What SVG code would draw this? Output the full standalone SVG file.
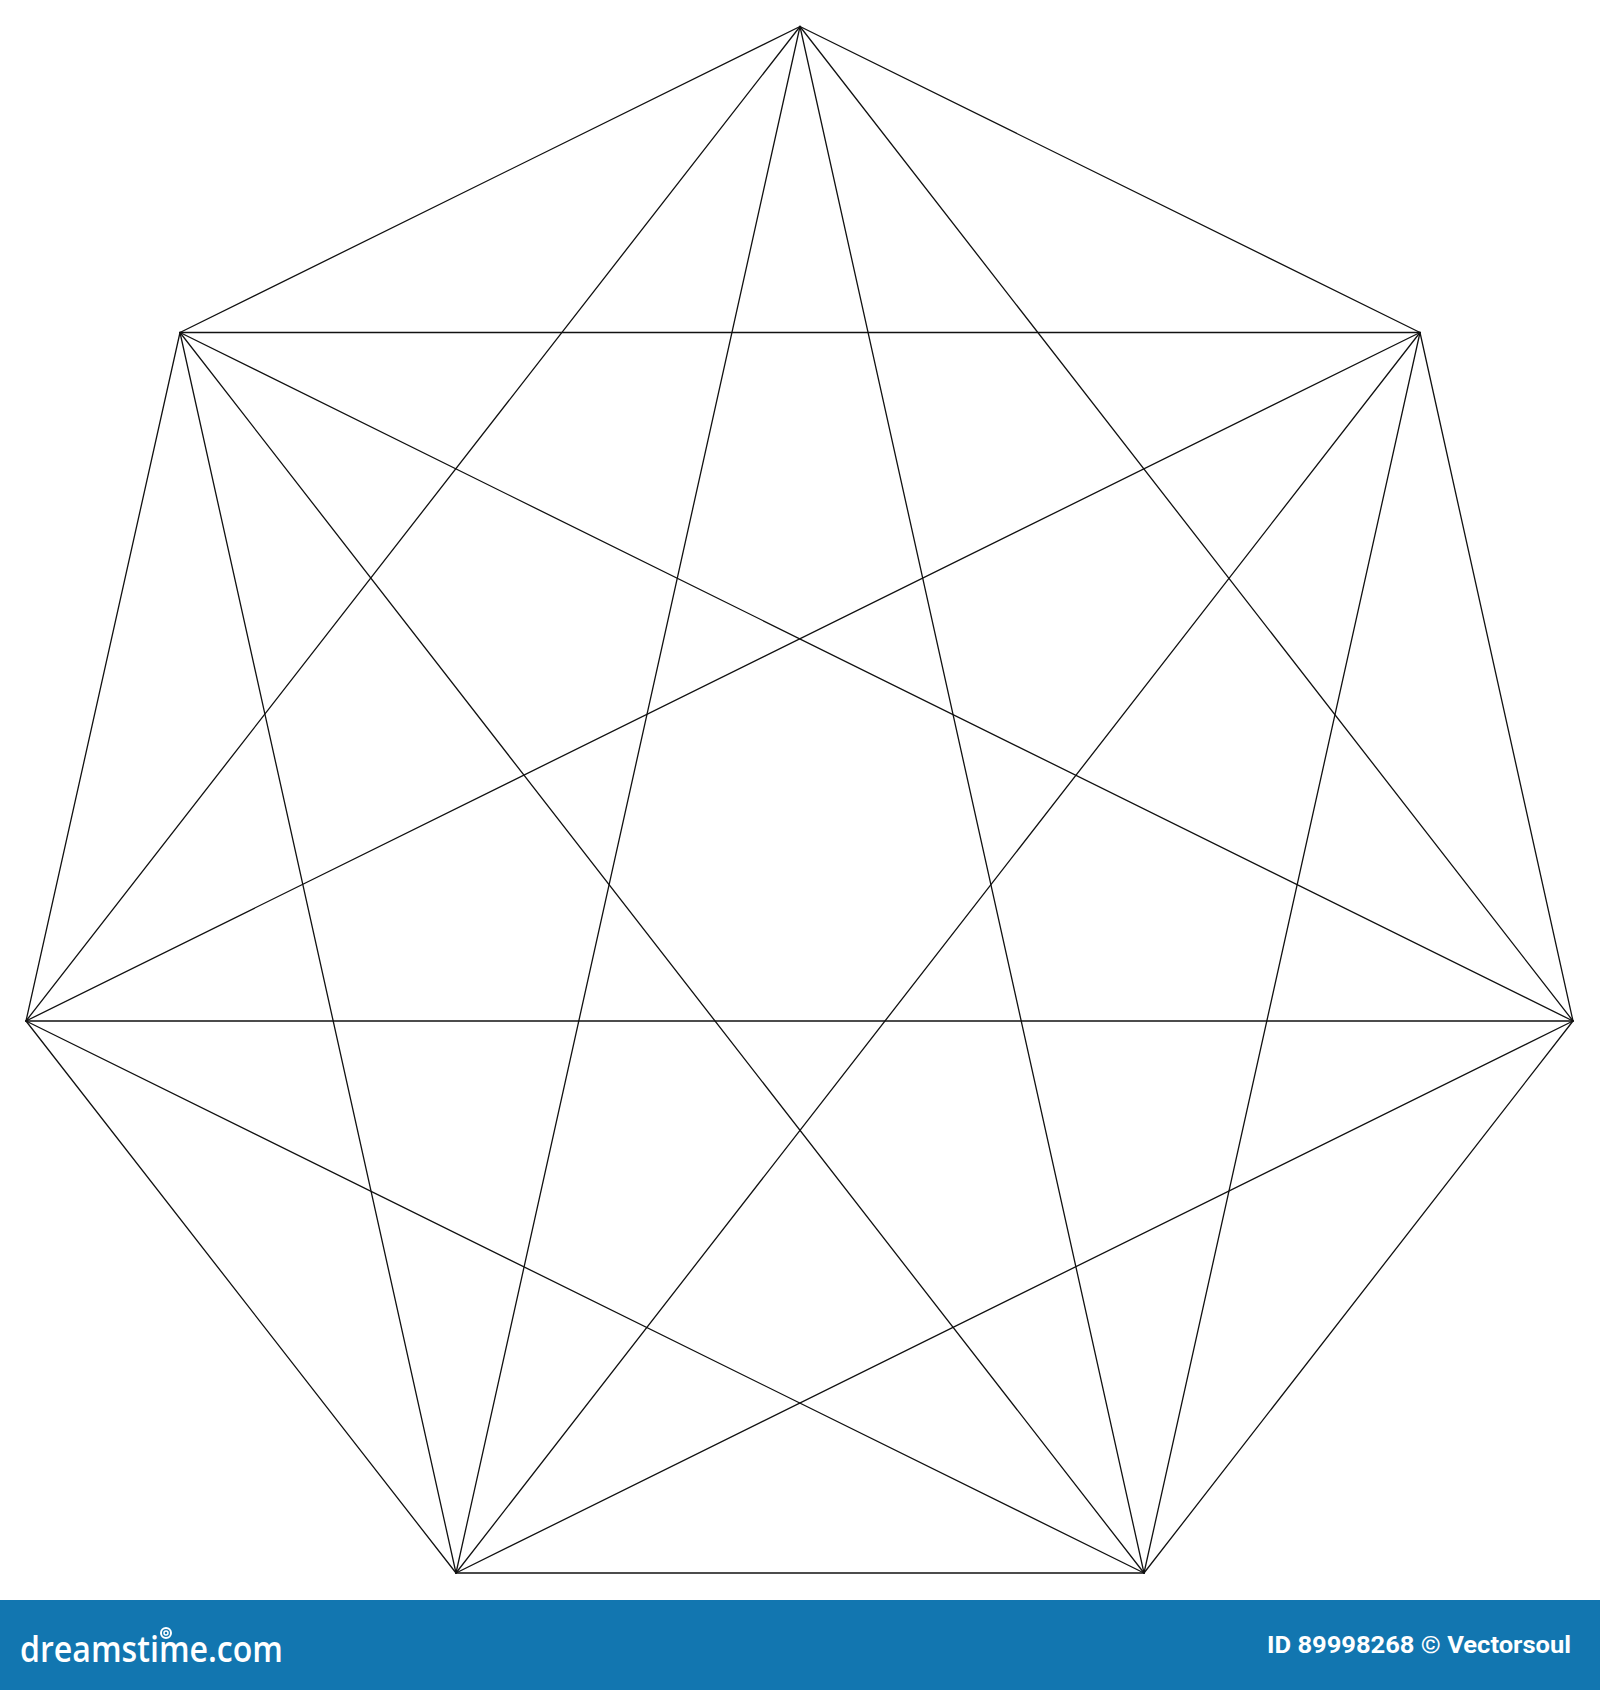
<svg xmlns="http://www.w3.org/2000/svg" width="1600" height="1690" viewBox="0 0 1600 1690">
<style>
.ln{stroke:#111111;stroke-width:1.3;fill:none;stroke-linecap:round}
.ft{fill:#ffffff}
</style>
<rect x="0" y="0" width="1600" height="1690" fill="#ffffff"/>
<g id="connectors">
<line class="ln" x1="800" y1="26.5" x2="180" y2="332.5"/>
<line class="ln" x1="800" y1="26.5" x2="1420" y2="332.5"/>
<line class="ln" x1="800" y1="26.5" x2="26" y2="1021"/>
<line class="ln" x1="800" y1="26.5" x2="1573" y2="1021"/>
<line class="ln" x1="800" y1="26.5" x2="456" y2="1573"/>
<line class="ln" x1="800" y1="26.5" x2="1144" y2="1573"/>
<line class="ln" x1="180" y1="332.5" x2="1420" y2="332.5"/>
<line class="ln" x1="180" y1="332.5" x2="26" y2="1021"/>
<line class="ln" x1="180" y1="332.5" x2="1573" y2="1021"/>
<line class="ln" x1="180" y1="332.5" x2="456" y2="1573"/>
<line class="ln" x1="180" y1="332.5" x2="1144" y2="1573"/>
<line class="ln" x1="1420" y1="332.5" x2="26" y2="1021"/>
<line class="ln" x1="1420" y1="332.5" x2="1573" y2="1021"/>
<line class="ln" x1="1420" y1="332.5" x2="456" y2="1573"/>
<line class="ln" x1="1420" y1="332.5" x2="1144" y2="1573"/>
<line class="ln" x1="26" y1="1021" x2="1573" y2="1021"/>
<line class="ln" x1="26" y1="1021" x2="456" y2="1573"/>
<line class="ln" x1="26" y1="1021" x2="1144" y2="1573"/>
<line class="ln" x1="1573" y1="1021" x2="456" y2="1573"/>
<line class="ln" x1="1573" y1="1021" x2="1144" y2="1573"/>
<line class="ln" x1="456" y1="1573" x2="1144" y2="1573"/>
</g>
<g id="footer">
<rect x="0" y="1600" width="1600" height="90" fill="#1276b0"/>
<text class="ft" x="20" y="1662" font-family="'Open Sans', 'Liberation Sans', sans-serif" font-weight="600" font-size="36" textLength="263" lengthAdjust="spacingAndGlyphs">dreamstime.com</text>
<circle cx="166" cy="1633" r="5" fill="none" stroke="#ffffff" stroke-width="2"/>
<circle cx="166" cy="1633" r="2" fill="none" stroke="#ffffff" stroke-width="1.5"/>
<text class="ft" x="1267" y="1653" font-family="Roboto, 'Liberation Sans', sans-serif" font-weight="bold" font-size="24" textLength="304" lengthAdjust="spacingAndGlyphs">ID 89998268 © Vectorsoul</text>
</g>
</svg>
